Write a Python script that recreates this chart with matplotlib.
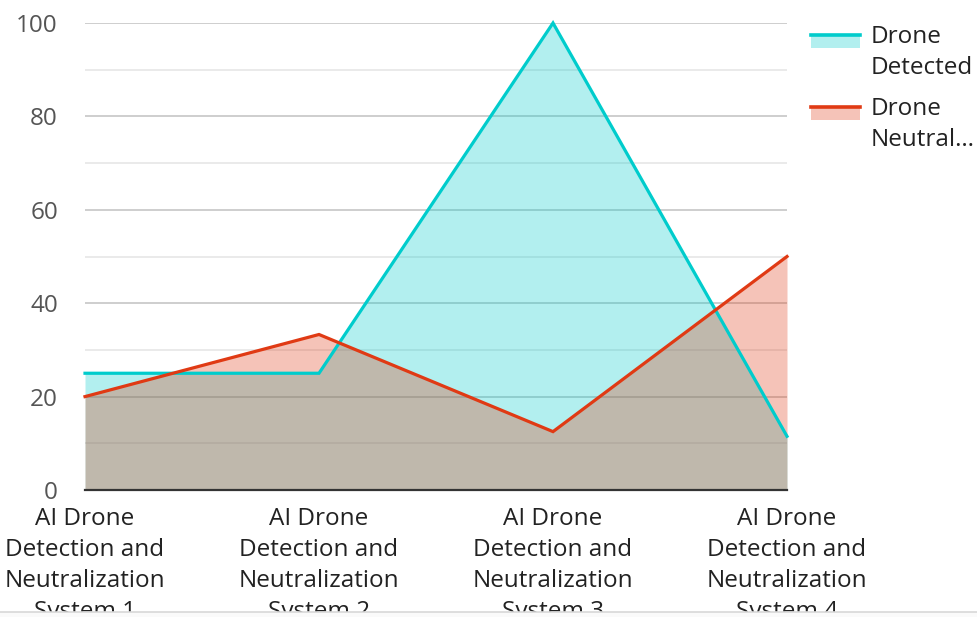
import matplotlib
matplotlib.use("Agg")
import matplotlib.pyplot as plt
from matplotlib.patches import Rectangle
from matplotlib.lines import Line2D

plt.rcParams['font.family'] = ['Open Sans', 'DejaVu Sans']

categories = ["AI Drone\nDetection and\nNeutralization\nSystem 1",
              "AI Drone\nDetection and\nNeutralization\nSystem 2",
              "AI Drone\nDetection and\nNeutralization\nSystem 3",
              "AI Drone\nDetection and\nNeutralization\nSystem 4"]
series_names = ["Drone\nDetected", "Drone\nNeutral…"]
detected = [25, 25, 100, 11.5]
neutralized = [20, 33.3, 12.5, 50]
colors = ["#00cccc", "#e03a14"]
fill_colors = ["#00cccc", "#e03a14"]
fill_alpha = 0.3

FS = 17.5
LS = 1.39
W, H = 978, 617
fig = plt.figure(figsize=(W/100, H/100), dpi=100)
ax = fig.add_axes([85/W, 1-490/H, (787-85)/W, (490-23)/H])

x = list(range(len(categories)))
ax.set_xlim(0, len(categories)-1)
ax.set_ylim(0, 100)

for vals, c, fc in [(detected, colors[0], fill_colors[0]), (neutralized, colors[1], fill_colors[1])]:
    ax.fill_between(x, 0, vals, color=fc, alpha=fill_alpha, lw=0, zorder=2)
for vals, c in [(detected, colors[0]), (neutralized, colors[1])]:
    ax.plot(x, vals, color=c, lw=2.3, zorder=3, solid_joinstyle='miter', clip_on=False)

ax.set_yticks(range(0, 101, 20))
ax.set_yticks(range(10, 100, 20), minor=True)
ax.grid(True, which='major', axis='y', color='#c6c6c6', lw=1.2, zorder=1)
ax.grid(True, which='minor', axis='y', color='#e6e6e6', lw=1.2, zorder=1)
ax.set_axisbelow(True)
ax.grid(False, axis='x')
for s in ['top', 'right', 'left']:
    ax.spines[s].set_visible(False)
ax.spines['bottom'].set_color('#333333')
ax.spines['bottom'].set_linewidth(1.6)
ax.spines['bottom'].set_zorder(4)

ax.tick_params(axis='y', which='both', length=0, labelsize=FS, labelcolor='#555555', pad=19.5)
ax.set_xticks(x)
ax.set_xticklabels(categories, fontsize=FS, color='#222222', linespacing=LS)
ax.tick_params(axis='x', length=0, pad=12)

# legend (manual)
for i, (name, c) in enumerate(zip(series_names, colors)):
    ytop = 34 + i*72
    fig.add_artist(Rectangle((811/W, 1-(ytop+14)/H), 49/W, 14/H, transform=fig.transFigure,
                             facecolor=c, alpha=fill_alpha, lw=0))
    fig.add_artist(Line2D([811/W, 860/W], [1-(ytop+1)/H]*2, transform=fig.transFigure,
                          color=c, lw=2.6))
    fig.text(871/W, 1-(ytop-9)/H, name, fontsize=FS, color='#222222', va='top', ha='left',
             linespacing=LS)

# bottom cutoff strip
fig.add_artist(Rectangle((0, 0), 1, (H-612)/H, transform=fig.transFigure,
                         facecolor='#fafafa', edgecolor='none', zorder=10))
fig.add_artist(Line2D([0, 1], [(H-612)/H]*2, transform=fig.transFigure,
                      color='#d8d8d8', lw=1.2, zorder=11))

fig.savefig("out.png", dpi=100)
